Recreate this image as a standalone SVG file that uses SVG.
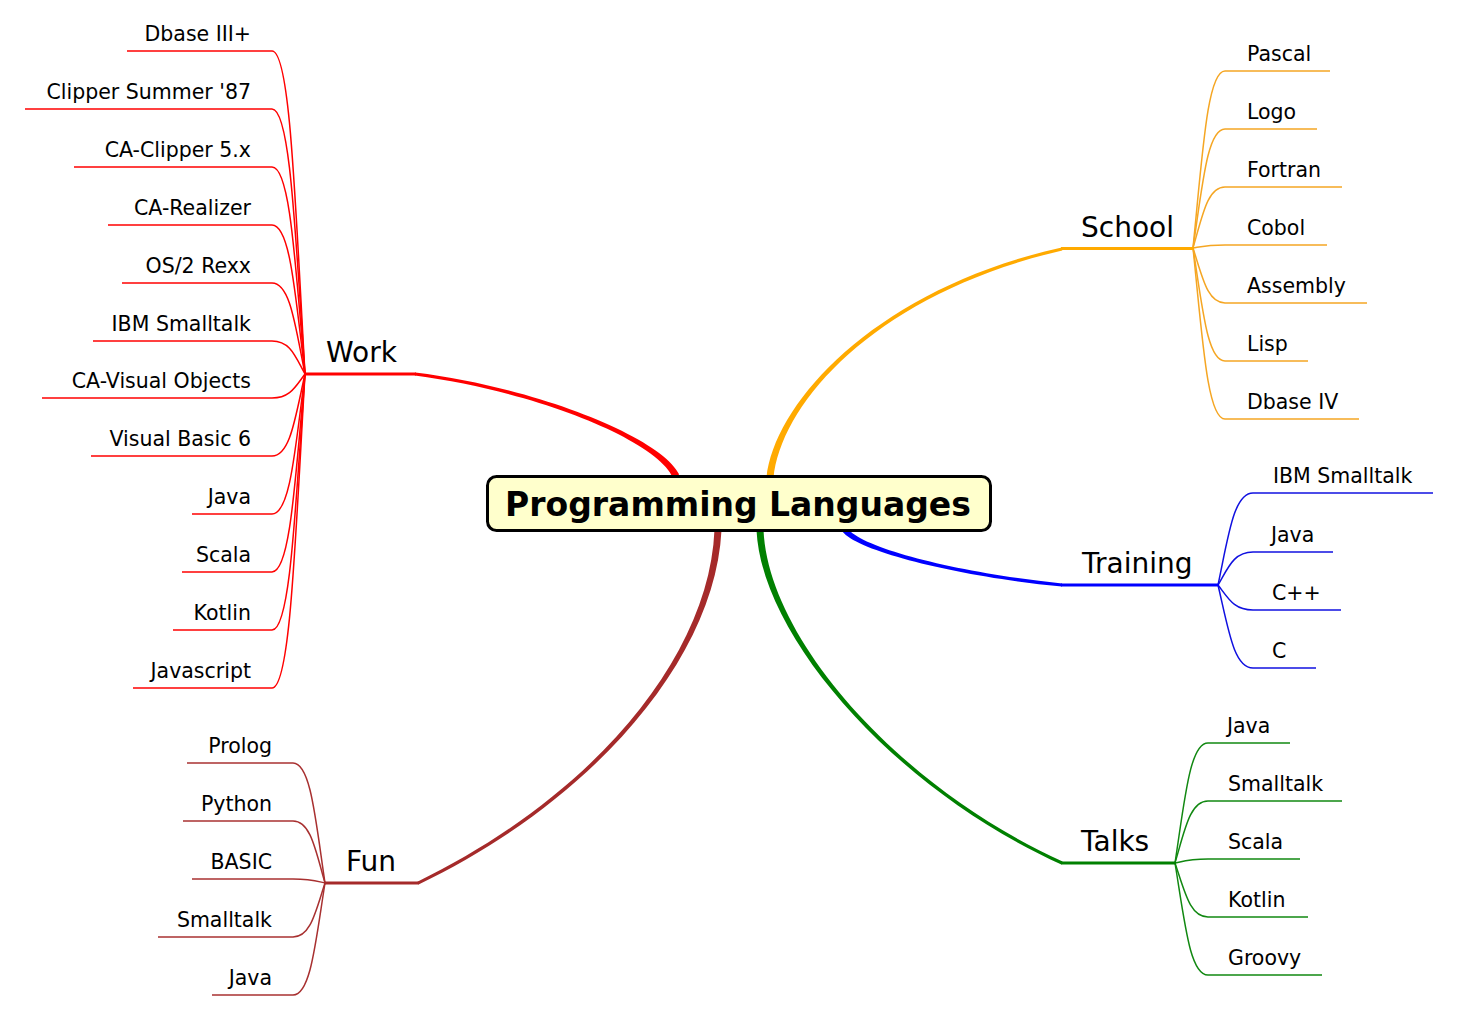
<svg xmlns="http://www.w3.org/2000/svg" width="1462" height="1021" viewBox="0 0 1462 1021">
<style>
text{font-family:"DejaVu Sans","Liberation Sans",sans-serif;fill:#000}
.c{font-size:20.5px}
.b{font-size:28px}
.r{text-anchor:end}
.t{font-size:33px;font-weight:bold;text-anchor:middle}
.w{stroke:#ff0000}
.s{stroke:#f5a623}
.tr{stroke:#1010e0}
.tk{stroke:#118811}
.f{stroke:#a83030}
.k{fill:none;stroke-width:1.5}
.h{fill:none;stroke-width:3}
</style>
<rect width="1462" height="1021" fill="#fff"/>
<g id="connectors">
  <path d="M679.2,474.6 C662.7,438.8 540.3,388 415.2,372.5 L414.8,375.5 C539.7,392 657.3,441.2 672.8,477.4 Z" fill="#ff0000"/>
  <path d="M773.5,478.4 C781,400.3 880.4,292 1062.3,250.5 L1061.7,247.5 C879.6,288 775,399.7 766.5,477.6 Z" fill="#ffaa00"/>
  <path d="M842.6,531.8 C858,551.5 959.8,577 1061.9,586.5 L1062.1,583.5 C960.2,573 862,548.5 847.4,528.2 Z" fill="#0000ff"/>
  <path d="M756.5,530.2 C762,640.1 899.2,791.8 1061.4,864.4 L1062.6,861.6 C900.8,788.2 768,639.9 763.5,529.8 Z" fill="#008000"/>
  <path d="M714.5,529.8 C709,659.9 589.1,798.2 417.4,881.7 L418.6,884.4 C590.9,801.8 715,660.1 721.5,530.2 Z" fill="#a52a2a"/>
  <g class="k w">
    <path d="M305,374 C295.1,199.6 290.2,51 272,51"/>
    <path d="M305,374 C295.1,230.9 290.2,109 272,109"/>
    <path d="M305,374 C295.1,262.2 290.2,167 272,167"/>
    <path d="M305,374 C295.1,293.5 290.2,225 272,225"/>
    <path d="M305,374 C295.1,324.9 290.2,283 272,283"/>
    <path d="M305,374 C295.1,356.2 290.2,341 272,341"/>
    <path d="M305,374 C295.1,387 290.2,398 272,398"/>
    <path d="M305,374 C295.1,418.3 290.2,456 272,456"/>
    <path d="M305,374 C295.1,449.6 290.2,514 272,514"/>
    <path d="M305,374 C295.1,480.9 290.2,572 272,572"/>
    <path d="M305,374 C295.1,512.2 290.2,630 272,630"/>
    <path d="M305,374 C295.1,543.6 290.2,688 272,688"/>
  </g>
  <g class="k s">
    <path d="M1193,248 C1202.6,152.4 1207.4,71 1225,71"/>
    <path d="M1193,248 C1202.6,183.7 1207.4,129 1225,129"/>
    <path d="M1193,248 C1202.6,215.1 1207.4,187 1225,187"/>
    <path d="M1193,248 C1202.6,246.4 1207.4,245 1225,245"/>
    <path d="M1193,248 C1202.6,277.7 1207.4,303 1225,303"/>
    <path d="M1193,248 C1202.6,309 1207.4,361 1225,361"/>
    <path d="M1193,248 C1202.6,340.3 1207.4,419 1225,419"/>
  </g>
  <g class="k tr">
    <path d="M1218,585 C1228.5,535.3 1233.8,493 1253,493"/>
    <path d="M1218,585 C1228.5,567.2 1233.8,552 1253,552"/>
    <path d="M1218,585 C1228.5,598.5 1233.8,610 1253,610"/>
    <path d="M1218,585 C1228.5,629.8 1233.8,668 1253,668"/>
  </g>
  <g class="k tk">
    <path d="M1175,863 C1184.9,798.2 1189.9,743 1208,743"/>
    <path d="M1175,863 C1184.9,829.5 1189.9,801 1208,801"/>
    <path d="M1175,863 C1184.9,860.8 1189.9,859 1208,859"/>
    <path d="M1175,863 C1184.9,892.2 1189.9,917 1208,917"/>
    <path d="M1175,863 C1184.9,923.5 1189.9,975 1208,975"/>
  </g>
  <g class="k f">
    <path d="M325,883 C315.4,818.2 310.6,763 293,763"/>
    <path d="M325,883 C315.4,849.5 310.6,821 293,821"/>
    <path d="M325,883 C315.4,880.8 310.6,879 293,879"/>
    <path d="M325,883 C315.4,912.2 310.6,937 293,937"/>
    <path d="M325,883 C315.4,943.5 310.6,995 293,995"/>
  </g>
</g>

<g id="root">
  <rect x="487.5" y="476.5" width="503" height="54" rx="9" fill="#ffffcc" stroke="#000" stroke-width="3"/>
  <text class="t" x="738" y="516">Programming Languages</text>
</g>

<g id="work">
  <line class="h w" x1="305" y1="374" x2="416" y2="374"/>
  <text class="b" x="326" y="362">Work</text>
</g>
<g id="school">
  <line class="h s" x1="1061" y1="248.5" x2="1194" y2="248.5" style="stroke:#ffaa00"/>
  <text class="b" x="1081" y="237">School</text>
</g>
<g id="training">
  <line class="h tr" x1="1061" y1="585" x2="1219" y2="585" style="stroke:#0000ff"/>
  <text class="b" x="1082" y="573">Training</text>
</g>
<g id="talks">
  <line class="h tk" x1="1061" y1="863" x2="1176" y2="863" style="stroke:#008000"/>
  <text class="b" x="1081" y="851">Talks</text>
</g>
<g id="fun">
  <line class="h f" x1="324" y1="883" x2="419" y2="883" style="stroke:#a52a2a"/>
  <text class="b" x="346" y="871">Fun</text>
</g>

<g id="w1"><line class="k w" x1="127" y1="51" x2="272" y2="51"/><text class="c r" x="251" y="41">Dbase III+</text></g>
<g id="w2"><line class="k w" x1="25" y1="109" x2="272" y2="109"/><text class="c r" x="251" y="99">Clipper Summer '87</text></g>
<g id="w3"><line class="k w" x1="74" y1="167" x2="272" y2="167"/><text class="c r" x="251" y="157">CA-Clipper 5.x</text></g>
<g id="w4"><line class="k w" x1="108" y1="225" x2="272" y2="225"/><text class="c r" x="251" y="215">CA-Realizer</text></g>
<g id="w5"><line class="k w" x1="122" y1="283" x2="272" y2="283"/><text class="c r" x="251" y="273">OS/2 Rexx</text></g>
<g id="w6"><line class="k w" x1="93" y1="341" x2="272" y2="341"/><text class="c r" x="251" y="331">IBM Smalltalk</text></g>
<g id="w7"><line class="k w" x1="42" y1="398" x2="272" y2="398"/><text class="c r" x="251" y="388">CA-Visual Objects</text></g>
<g id="w8"><line class="k w" x1="91" y1="456" x2="272" y2="456"/><text class="c r" x="251" y="446">Visual Basic 6</text></g>
<g id="w9"><line class="k w" x1="192" y1="514" x2="272" y2="514"/><text class="c r" x="251" y="504">Java</text></g>
<g id="w10"><line class="k w" x1="182" y1="572" x2="272" y2="572"/><text class="c r" x="251" y="562">Scala</text></g>
<g id="w11"><line class="k w" x1="173" y1="630" x2="272" y2="630"/><text class="c r" x="251" y="620">Kotlin</text></g>
<g id="w12"><line class="k w" x1="133" y1="688" x2="272" y2="688"/><text class="c r" x="251" y="678">Javascript</text></g>

<g id="s1"><line class="k s" x1="1225" y1="71" x2="1330" y2="71"/><text class="c" x="1247" y="61">Pascal</text></g>
<g id="s2"><line class="k s" x1="1225" y1="129" x2="1317" y2="129"/><text class="c" x="1247" y="119">Logo</text></g>
<g id="s3"><line class="k s" x1="1225" y1="187" x2="1342" y2="187"/><text class="c" x="1247" y="177">Fortran</text></g>
<g id="s4"><line class="k s" x1="1225" y1="245" x2="1327" y2="245"/><text class="c" x="1247" y="235">Cobol</text></g>
<g id="s5"><line class="k s" x1="1225" y1="303" x2="1367" y2="303"/><text class="c" x="1247" y="293">Assembly</text></g>
<g id="s6"><line class="k s" x1="1225" y1="361" x2="1308" y2="361"/><text class="c" x="1247" y="351">Lisp</text></g>
<g id="s7"><line class="k s" x1="1225" y1="419" x2="1359" y2="419"/><text class="c" x="1247" y="409">Dbase IV</text></g>

<g id="t1"><line class="k tr" x1="1253" y1="493" x2="1433" y2="493"/><text class="c" x="1273" y="483">IBM Smalltalk</text></g>
<g id="t2"><line class="k tr" x1="1253" y1="552" x2="1333" y2="552"/><text class="c" x="1271" y="542">Java</text></g>
<g id="t3"><line class="k tr" x1="1253" y1="610" x2="1341" y2="610"/><text class="c" x="1272" y="600">C++</text></g>
<g id="t4"><line class="k tr" x1="1253" y1="668" x2="1316" y2="668"/><text class="c" x="1272" y="658">C</text></g>

<g id="k1"><line class="k tk" x1="1208" y1="743" x2="1290" y2="743"/><text class="c" x="1227" y="733">Java</text></g>
<g id="k2"><line class="k tk" x1="1208" y1="801" x2="1342" y2="801"/><text class="c" x="1228" y="791">Smalltalk</text></g>
<g id="k3"><line class="k tk" x1="1208" y1="859" x2="1300" y2="859"/><text class="c" x="1228" y="849">Scala</text></g>
<g id="k4"><line class="k tk" x1="1208" y1="917" x2="1308" y2="917"/><text class="c" x="1228" y="907">Kotlin</text></g>
<g id="k5"><line class="k tk" x1="1208" y1="975" x2="1322" y2="975"/><text class="c" x="1228" y="965">Groovy</text></g>

<g id="f1"><line class="k f" x1="187" y1="763" x2="293" y2="763"/><text class="c r" x="272" y="753">Prolog</text></g>
<g id="f2"><line class="k f" x1="183" y1="821" x2="293" y2="821"/><text class="c r" x="272" y="811">Python</text></g>
<g id="f3"><line class="k f" x1="192" y1="879" x2="293" y2="879"/><text class="c r" x="272" y="869">BASIC</text></g>
<g id="f4"><line class="k f" x1="158" y1="937" x2="293" y2="937"/><text class="c r" x="272" y="927">Smalltalk</text></g>
<g id="f5"><line class="k f" x1="212" y1="995" x2="293" y2="995"/><text class="c r" x="272" y="985">Java</text></g>
</svg>
